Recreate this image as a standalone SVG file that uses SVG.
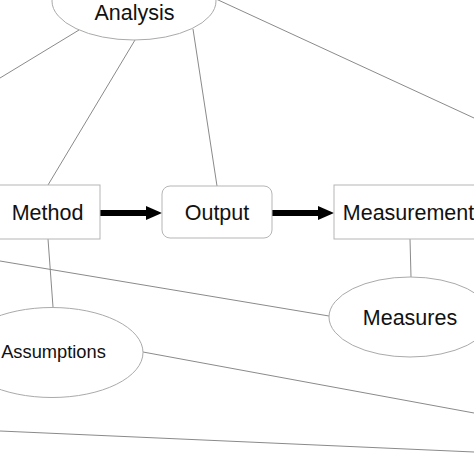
<svg xmlns="http://www.w3.org/2000/svg" width="474" height="474" viewBox="0 0 474 474">
<style>
.t{font-family:"Liberation Sans",Arial,sans-serif;font-size:21.5px;fill:#111;text-anchor:middle}
.s{font-size:18.3px}
.ell{fill:#fff;stroke:#aaa;stroke-width:1}
.box{fill:#fff;stroke:#b5b5b5;stroke-width:1}
.ln{stroke:#8a8a8a;stroke-width:1;fill:none}
.ar{stroke:#000;stroke-width:6;fill:none}
</style>
<defs>
<marker id="ah" markerUnits="userSpaceOnUse" markerWidth="16" markerHeight="14" refX="2" refY="7" orient="auto">
<path d="M0,0 L16,7 L0,14 z" fill="#000"/>
</marker>
</defs>
<rect width="474" height="474" fill="#fff"/>
<g id="connectors">
<line class="ln" x1="79" y1="30" x2="0" y2="78"/>
<line class="ln" x1="135" y1="40" x2="48" y2="185"/>
<line class="ln" x1="193" y1="29" x2="217" y2="186"/>
<line class="ln" x1="216" y1="-1" x2="474" y2="118"/>
<line class="ln" x1="48" y1="239" x2="53" y2="307"/>
<line class="ln" x1="410" y1="239" x2="411" y2="277"/>
<line class="ln" x1="0" y1="261" x2="329" y2="316"/>
<line class="ln" x1="143" y1="352" x2="474" y2="413"/>
<line class="ln" x1="0" y1="431" x2="474" y2="452"/>
<line class="ar" x1="100" y1="213" x2="148" y2="213" marker-end="url(#ah)"/>
<line class="ar" x1="272" y1="213" x2="320" y2="213" marker-end="url(#ah)"/>
</g>
<g id="analysis">
<ellipse class="ell" cx="134" cy="1" rx="82" ry="39"/>
<text class="t" x="134.5" y="20">Analysis</text>
</g>
<g id="method">
<rect class="box" x="-5" y="185" width="105" height="54"/>
<text class="t" x="47.5" y="220">Method</text>
</g>
<g id="output">
<rect class="box" x="162" y="186" width="110" height="52" rx="8" ry="8"/>
<text class="t" x="217" y="220">Output</text>
</g>
<g id="measurement">
<rect class="box" x="334" y="185" width="150" height="54"/>
<text class="t" x="408.5" y="220">Measurement</text>
</g>
<g id="measures">
<ellipse class="ell" cx="410" cy="317" rx="81" ry="40"/>
<text class="t" x="410" y="325">Measures</text>
</g>
<g id="assumptions">
<ellipse class="ell" cx="52" cy="352.5" rx="91" ry="45"/>
<text class="t s" x="53.5" y="358">Assumptions</text>
</g>
</svg>
